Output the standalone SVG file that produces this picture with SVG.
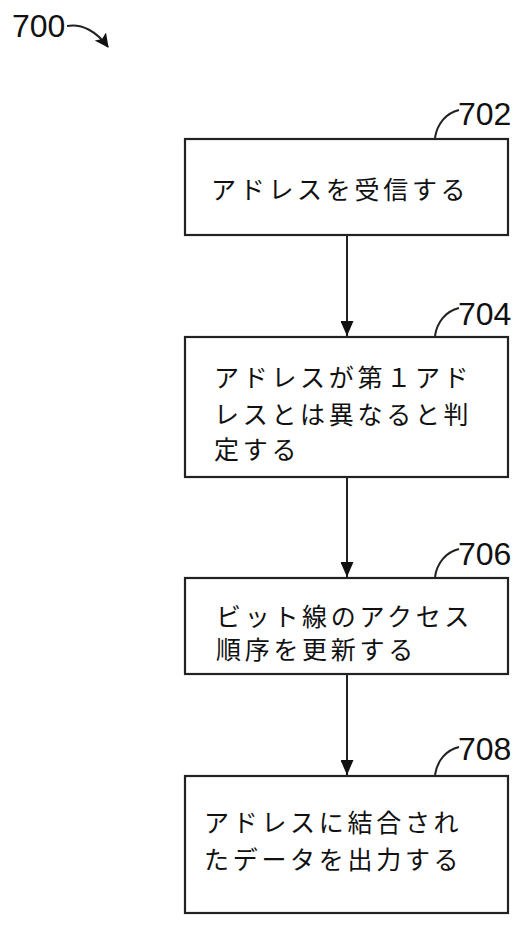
<svg xmlns="http://www.w3.org/2000/svg" width="527" height="929" viewBox="0 0 527 929">
<defs>
<style>
.box{fill:#fff;stroke:#222;stroke-width:2.2}
.t{font-family:"Noto Sans CJK JP","Noto Sans",sans-serif;font-size:25px;letter-spacing:3.7px;fill:#111}
.ref{font-family:"Liberation Sans",Arial,sans-serif;font-size:32px;fill:#111}
.lead{fill:none;stroke:#222;stroke-width:2}
.conn{stroke:#222;stroke-width:2;fill:none}
</style>
<marker id="ah" viewBox="0 0 15 13" refX="15" refY="6.5" markerWidth="15" markerHeight="13" markerUnits="userSpaceOnUse" orient="auto">
<path d="M0,0 L15,6.5 L0,13 z" fill="#111"/>
</marker>
<marker id="ah2" viewBox="0 0 14 14" refX="13" refY="7" markerWidth="14" markerHeight="14" markerUnits="userSpaceOnUse" orient="auto">
<path d="M0,0 L14,7 L0,14 L3,7 z" fill="#111"/>
</marker>
</defs>
<rect width="527" height="929" fill="#fff"/>
<g id="fig-label">
<text class="ref" x="12" y="37">700</text>
<path class="lead" d="M67,26 C82,23 97,32 108,47" marker-end="url(#ah2)"/>
</g>
<g id="connectors">
<line class="conn" x1="347" y1="236" x2="347" y2="336" marker-end="url(#ah)"/>
<line class="conn" x1="347" y1="478" x2="347" y2="577" marker-end="url(#ah)"/>
<line class="conn" x1="347" y1="675" x2="347" y2="775" marker-end="url(#ah)"/>
</g>
<g id="n702">
<rect class="box" x="185" y="139" width="323" height="96"/>
<text class="t" x="211" y="199">アドレスを受信する</text>
<path class="lead" d="M435,138 C437,124 446,113 459,110"/>
<text class="ref" x="458" y="125">702</text>
</g>
<g id="n704">
<rect class="box" x="185" y="337" width="323" height="140"/>
<text class="t" x="214" y="387">アドレスが第１アド</text>
<text class="t" x="214" y="424">レスとは異なると判</text>
<text class="t" x="214" y="459">定する</text>
<path class="lead" d="M435,336 C437,322 446,311 459,308"/>
<text class="ref" x="458" y="325">704</text>
</g>
<g id="n706">
<rect class="box" x="185" y="578" width="323" height="96"/>
<text class="t" x="216" y="626">ビット線のアクセス</text>
<text class="t" x="216" y="659">順序を更新する</text>
<path class="lead" d="M435,577 C437,563 446,552 459,549"/>
<text class="ref" x="458" y="565">706</text>
</g>
<g id="n708">
<rect class="box" x="185" y="776" width="323" height="137"/>
<text class="t" x="204" y="832">アドレスに結合され</text>
<text class="t" x="204" y="869">たデータを出力する</text>
<path class="lead" d="M435,775 C437,761 446,750 459,747"/>
<text class="ref" x="458" y="760">708</text>
</g>
</svg>
